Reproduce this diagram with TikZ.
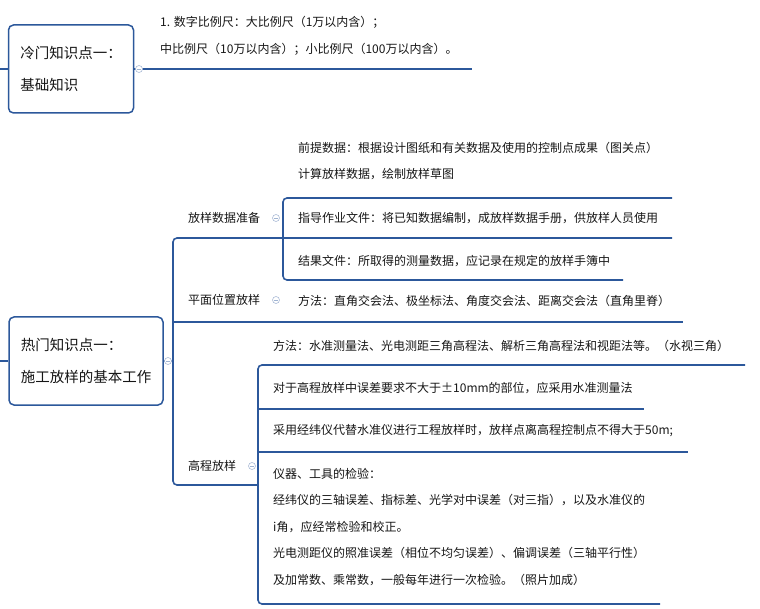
\documentclass[tikz,border=0pt]{standalone}
\usepackage{fontspec}
\setmainfont{Noto Sans CJK SC}
\usetikzlibrary{positioning}
\definecolor{mapblue}{RGB}{44,88,155}
\definecolor{maptext}{RGB}{22,22,22}
\tikzset{
  mbox/.style  ={rectangle, rounded corners=5pt, draw=mapblue, line width=1.5pt,
                 fill=white, align=left, inner sep=0pt, text=maptext,
                 font=\fontsize{14.5}{32}\selectfont},
  mline/.style ={line width=1.6pt, mapblue, rounded corners=4pt},
  mlabel/.style={anchor=west, inner sep=0pt, text=maptext,
                 font=\fontsize{12}{26.5}\selectfont},
  mtext/.style ={mlabel, align=left},
  mfold/.style ={circle, draw=mapblue!40, fill=white, line width=0.6pt,
                 minimum size=7pt, inner sep=0pt,
                 path picture={\draw[mapblue!45, line width=0.5pt]
                   ([xshift=1.7pt]path picture bounding box.west) --
                   ([xshift=-1.7pt]path picture bounding box.east);}},
}

\begin{document}
\begin{tikzpicture}[x=1pt, y=-1pt]
  \useasboundingbox (0,0) rectangle (760,609);

  % ---- cold topic ---------------------------------------------------------
  \node[mbox, minimum width=125pt, minimum height=88pt] (cold) at (71,69)
    {冷门知识点一：\\基础知识};
  \node[mtext] (scale) at (160,36)
    {1. 数字比例尺：大比例尺（1万以内含）；\\中比例尺（10万以内含）；小比例尺（100万以内含）。};
  \coordinate (coldin)  at (0,69);
  \coordinate (coldend) at (472,69);
  \draw[mline] (coldin) -- (cold.west);
  \draw[mline] (cold.east) -- (coldend);
  \node[mfold] (coldfold) at (139,69) {};

  % ---- hot topic ----------------------------------------------------------
  \node[mbox, minimum width=154pt, minimum height=88pt] (hot) at (86,361)
    {热门知识点一：\\施工放样的基本工作};
  \coordinate (hotin) at (0,361);
  \coordinate (hotj)  at (173,361);
  \draw[mline] (hotin) -- (hot.west);
  \draw[mline] (hot.east) -- (hotj);

  % branch labels
  \node[mlabel] (prep)  at (188,218) {放样数据准备};
  \node[mlabel] (plane) at (188,300) {平面位置放样};
  \node[mlabel] (elev)  at (188,466) {高程放样};

  % leaves
  \node[mtext] (prep1) at (298,161)
    {前提数据：根据设计图纸和有关数据及使用的控制点成果（图关点）\\计算放样数据，绘制放样草图};
  \node[mlabel] (prep2)  at (298,218) {指导作业文件：将已知数据编制，成放样数据手册，供放样人员使用};
  \node[mlabel] (prep3)  at (298,261) {结果文件：所取得的测量数据，应记录在规定的放样手簿中};
  \node[mlabel] (plane1) at (298,301) {方法：直角交会法、极坐标法、角度交会法、距离交会法（直角里脊）};
  \node[mlabel] (elev1)  at (273,346) {方法：水准测量法、光电测距三角高程法、解析三角高程法和视距法等。（水视三角）};
  \node[mlabel] (elev2)  at (273,388) {对于高程放样中误差要求不大于±10mm的部位，应采用水准测量法};
  \node[mlabel] (elev3)  at (273,431) {采用经纬仪代替水准仪进行工程放样时，放样点离高程控制点不得大于50m;};
  \node[mtext] (elev4) at (273,527)
    {仪器、工具的检验：\\经纬仪的三轴误差、指标差、光学对中误差（对三指），以及水准仪的\\i角，应经常检验和校正。\\光电测距仪的照准误差（相位不均匀误差）、偏调误差（三轴平行性）\\及加常数、乘常数，一般每年进行一次检验。（照片加成）};

  % trunk of the hot topic
  \coordinate (trtop) at (173,238);
  \coordinate (trbot) at (173,485);
  \coordinate (pjoin) at (283,238);
  \coordinate (ejoin) at (258,485);
  \coordinate (p1s) at (283,198);  \coordinate (p1e) at (672,198);
  \coordinate (p2e) at (672,238);
  \coordinate (p3s) at (283,280);  \coordinate (p3e) at (623,280);
  \coordinate (q1s) at (173,322);  \coordinate (q1e) at (683,322);
  \coordinate (e1s) at (258,365);  \coordinate (e1e) at (745,365);
  \coordinate (e2s) at (258,409);  \coordinate (e2e) at (644,409);
  \coordinate (e3s) at (258,452);  \coordinate (e3e) at (688,452);
  \coordinate (e4s) at (258,604);  \coordinate (e4e) at (660,604);

  \draw[mline] (p2e) -- (trtop) -- (trbot) -- (ejoin);
  \draw[mline] (p1e) -- (p1s) -- (p3s) -- (p3e);
  \draw[mline] (q1s) -- (q1e);
  \draw[mline] (e1e) -- (e1s) -- (e4s) -- (e4e);
  \draw[mline] (e2s) -- (e2e);
  \draw[mline] (e3s) -- (e3e);

  % fold buttons
  \node[mfold] (hotfold)   at (168,361) {};
  \node[mfold] (prepfold)  at (276,218) {};
  \node[mfold] (planefold) at (276,300) {};
  \node[mfold] (elevfold)  at (252,466) {};
\end{tikzpicture}
\end{document}
